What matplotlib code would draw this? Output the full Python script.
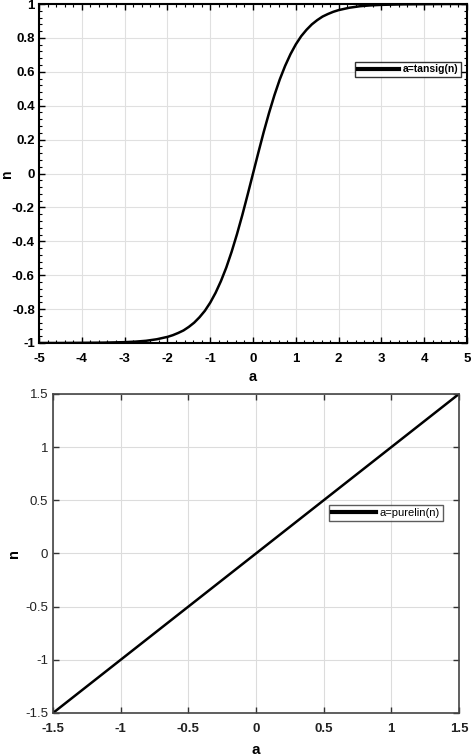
import numpy as np
import matplotlib.pyplot as plt
from matplotlib.ticker import MultipleLocator

# tansig curve, values
tansig_a = [-5, -4.5, -4, -3.5, -3, -2.75, -2.5, -2.25, -2, -1.875, -1.75, -1.625, -1.5,
            -1.375, -1.25, -1.125, -1, -0.875, -0.75, -0.625, -0.5, -0.375, -0.25,
            -0.125, 0, 0.125, 0.25, 0.375, 0.5, 0.625, 0.75, 0.875, 1, 1.125, 1.25,
            1.375, 1.5, 1.625, 1.75, 1.875, 2, 2.25, 2.5, 2.75, 3, 3.5, 4, 4.5, 5]
tansig_n = [-1.0, -1.0, -0.999, -0.998, -0.995, -0.992, -0.987, -0.978, -0.964,
            -0.954, -0.941, -0.926, -0.905, -0.880, -0.848, -0.810, -0.762, -0.704,
            -0.635, -0.555, -0.462, -0.358, -0.245, -0.124, 0.0, 0.124, 0.245, 0.358,
            0.462, 0.555, 0.635, 0.704, 0.762, 0.810, 0.848, 0.880, 0.905, 0.926,
            0.941, 0.954, 0.964, 0.978, 0.987, 0.992, 0.995, 0.998, 0.999, 1.0, 1.0]

# purelin line
purelin_a = [-1.5, 1.5]
purelin_n = [-1.5, 1.5]

top_xticks = [-5, -4, -3, -2, -1, 0, 1, 2, 3, 4, 5]
top_yticks = [-1, -0.8, -0.6, -0.4, -0.2, 0, 0.2, 0.4, 0.6, 0.8, 1]
bot_ticks = [-1.5, -1, -0.5, 0, 0.5, 1, 1.5]

plt.rcParams['font.family'] = ['Liberation Sans', 'DejaVu Sans']

fig = plt.figure(figsize=(4.74, 7.56), dpi=100)

# ---- top panel
ax1 = fig.add_axes([0.0823, 0.5463, 0.903, 0.4484])
ax1.plot(tansig_a, tansig_n, color='black', lw=1.8, label='a=tansig(n)')
ax1.set_xlim(-5, 5)
ax1.set_ylim(-1, 1)
ax1.set_xticks(top_xticks)
ax1.set_yticks(top_yticks)
ax1.set_xticklabels([f'{v:g}' for v in top_xticks])
ax1.set_yticklabels([f'{v:g}' for v in top_yticks])
ax1.xaxis.set_minor_locator(MultipleLocator(0.2))
ax1.yaxis.set_minor_locator(MultipleLocator(0.04))
ax1.grid(True, color='#e0e0e0', lw=0.8)
ax1.tick_params(which='both', direction='in', top=True, right=True, color='black')
ax1.tick_params(which='major', length=4, width=1, labelsize=9.5, pad=3)
ax1.tick_params(axis='x', which='major', pad=7)
ax1.tick_params(which='minor', length=2, width=0.8)
for lab in ax1.get_xticklabels() + ax1.get_yticklabels():
    lab.set_fontweight('bold')
for s in ax1.spines.values():
    s.set_linewidth(1.5)
ax1.set_xlabel('a', fontsize=10.5, fontweight='bold', labelpad=4)
ax1.set_ylabel('n', fontsize=10, fontweight='bold')
ax1.yaxis.set_label_coords(-0.058, 0.5)
leg1 = ax1.legend(loc='upper right', bbox_to_anchor=(0.997, 0.845), fontsize=7.5,
                  frameon=True, fancybox=False, edgecolor='black', handlelength=4,
                  borderpad=0.25, handletextpad=0.3)
leg1.get_frame().set_linewidth(1.0)
for t in leg1.get_texts():
    t.set_fontweight('bold')
for h in leg1.get_lines():
    h.set_linewidth(3)

# ---- bottom panel
ax2 = fig.add_axes([0.1118, 0.0569, 0.8565, 0.422])
ax2.plot(purelin_a, purelin_n, color='black', lw=1.8, label='a=purelin(n)')
ax2.set_xlim(-1.5, 1.5)
ax2.set_ylim(-1.5, 1.5)
ax2.set_xticks(bot_ticks)
ax2.set_yticks(bot_ticks)
ax2.set_xticklabels([f'{v:g}' for v in bot_ticks])
ax2.set_yticklabels([f'{v:g}' for v in bot_ticks])
ax2.grid(True, color='#dcdcdc', lw=0.8)
ax2.tick_params(direction='in', top=True, right=True, length=4, width=1,
                color='#333333', labelsize=9.5, labelcolor='#222222')
ax2.tick_params(axis='x', pad=7)
for lab in ax2.get_xticklabels():
    lab.set_fontweight('bold')
for s in ax2.spines.values():
    s.set_linewidth(1.2)
    s.set_color('#444444')
ax2.set_xlabel('a', fontsize=11, fontweight='bold', labelpad=6)
ax2.set_ylabel('n', fontsize=10.5, fontweight='bold')
ax2.yaxis.set_label_coords(-0.08, 0.5)
leg2 = ax2.legend(loc='upper right', bbox_to_anchor=(0.975, 0.67), fontsize=8,
                  frameon=True, fancybox=False, edgecolor='#333333', handlelength=4,
                  borderpad=0.3, handletextpad=0.3)
leg2.get_frame().set_linewidth(1.0)
for h in leg2.get_lines():
    h.set_linewidth(3)

fig.savefig('out.png', dpi=100)
